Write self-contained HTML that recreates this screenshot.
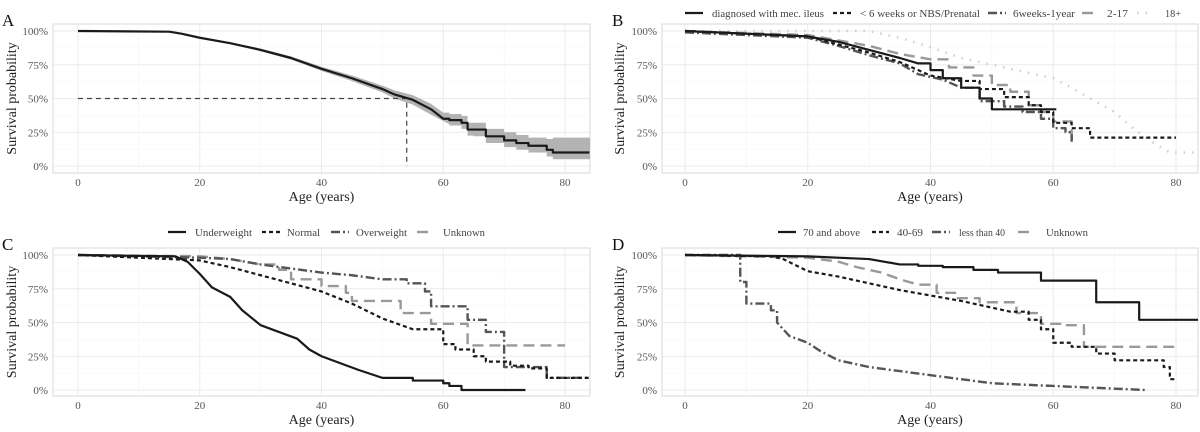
<!DOCTYPE html>
<html><head><meta charset="utf-8"><style>
html,body{margin:0;padding:0;background:#fff}
svg{display:block;font-family:"Liberation Serif",serif}
</style></head><body>
<svg id="fig" width="1200" height="432" viewBox="0 0 1200 432"></svg>
<script>
// ---- Data ----
const ticksX=[0,20,40,60,80];
const ticksY=[0,25,50,75,100];
const tickYLabels=["0%","25%","50%","75%","100%"];
// Panel A
const aAge=[0,15,17,20,25,30,35,40,45,50,52,55,58,60,61,63,64,65,67,70,72,74,77,78,84];
const aSurv=[100,99.5,98,95,91,86,80,72,65,57,53,49,42,35,34,32,27,27,22,19,17,15,12,10,10];
const aLow=[100,99.3,97.6,94.5,90.3,85,78.8,70.5,63,54.5,50,45.5,38,31,30,27.5,22.5,22,17,14,12,10,7,5,5];
const aHigh=[100,99.7,98.4,95.5,91.7,87,81.2,73.5,67,59.5,56,52.5,46,39.5,38.5,37,32,32,27.5,25,23,21,20,21,21];
const aMedian=54;
// Panel B
const bNames=["diagnosed with mec. ileus","< 6 weeks or NBS/Prenatal","6weeks-1year","2-17","18+"];
const b1Age=[0,20,25,30,35,38,40,42,45,48,50,60.5];
const b1Surv=[100,96,92,86,80,76,71,65,58,50,42,42];
const b2Age=[0,20,25,30,35,40,45,48,52,56,58,60,63,66,80];
const b2Surv=[100,96,90,84,77,67,63,57,51,45,40,32,28,21,21];
const b3Age=[0,20,25,30,35,38,42,45,48,52,55,58,60,62,63];
const b3Surv=[99,95,89,82,76,68,64,58,48,44,40,35,28,25,18];
const b4Age=[0,20,25,30,35,40,43,47,50,53,56,58,60,63];
const b4Surv=[100,97,93,89,83,79,73,67,60,55,45,40,33,18];
const b5Age=[0,30,35,40,45,50,55,60,63,66,70,73,76,79,84];
const b5Surv=[100,100,95,88,80,75,70,65,58,50,40,28,18,10,10];
// Panel C
const cNames=["Underweight","Normal","Overweight","Unknown"];
const c1Age=[0,16,18,20,22,25,27,30,33,36,38,40,43,46,50,55,60,61,63,73.5];
const c1Surv=[100,99,95,86,76,69,59,48,43,38,30,25,20,15,9,7,5,3,0,0];
const c2Age=[0,20,25,30,35,40,45,50,55,60,62,65,67,71,74,77,84];
const c2Surv=[100,96,91,85,79,73,64,53,45,34,30,25,21,18,16,9,9];
const c3Age=[0,20,25,30,35,40,45,50,54,57,58,64,67,70,77,84];
const c3Surv=[100,98,97,93,90,87,85,82,79,73,62,52,43,17,9,9];
const c4Age=[0,20,25,30,33,35,40,44,45,53,58,64,80];
const c4Surv=[100,99,97,93,89,82,77,72,66,57,49,33,33];
// Panel D
const dNames=["70 and above","40-69","less than 40","Unknown"];
const d1Age=[0,20,30,35,38,42,47,51,58,67,74,84];
const d1Surv=[100,99,97,93,92,91,89,87,81,65,52,52];
const d2Age=[0,14,16,20,25,30,35,40,45,50,53,56,58,60,63,67,70,76,78,79,80];
const d2Surv=[100,99,97,88,84,79,74,70,66,61,58,52,45,35,32,27,22,22,17,8,8];
const d3Age=[0,8.5,9,10,14,15,17,20,22,25,30,35,40,45,50,60,65,70,75];
const d3Surv=[100,100,80,64,59,50,40,35,29,22,17,14,11,8,5,3,2,1,0];
const d4Age=[0,20,25,28,32,35,38,41,44,48,54,58,62,65,80];
const d4Surv=[100,98,95,91,87,82,78,72,68,65,57,49,48,32,32];

const NS="http://www.w3.org/2000/svg";
const svg=document.getElementById('fig');
function mk(tag,attrs,parent){const e=document.createElementNS(NS,tag);for(const k in attrs)e.setAttribute(k,attrs[k]);(parent||svg).appendChild(e);return e;}

const styles=[
 {stroke:"#1a1a1a",dash:"",w:2.2},
 {stroke:"#1a1a1a",dash:"4,3",w:2.2},
 {stroke:"#555",dash:"9,3,2,3",w:2.4},
 {stroke:"#999",dash:"11,6",w:2.4},
 {stroke:"#cfcfcf",dash:"1.5,7",w:2.6}
];

function panel(cfg){
  const g=mk('g',{});
  
  
  const X=a=>cfg.x0+(cfg.x80-cfg.x0)*a/80;
  const Y=v=>cfg.y0+(cfg.y100-cfg.y0)*v/100;
  for(let i=0;i<ticksX.length;i++){
    const gl=mk('line',{x1:X(ticksX[i]),x2:X(ticksX[i]),y1:cfg.top,y2:cfg.bot,stroke:"#ebebeb","stroke-width":1},g);
    
    if(i<ticksX.length-1){mk('line',{x1:X(ticksX[i]+10),x2:X(ticksX[i]+10),y1:cfg.top,y2:cfg.bot,stroke:"#f5f5f5","stroke-width":0.6},g);}
  }
  for(let i=0;i<ticksY.length;i++){
    const gl=mk('line',{x1:cfg.left,x2:cfg.right,y1:Y(ticksY[i]),y2:Y(ticksY[i]),stroke:"#ebebeb","stroke-width":1},g);
    
    if(i<ticksY.length-1){mk('line',{x1:cfg.left,x2:cfg.right,y1:Y(ticksY[i]+12.5),y2:Y(ticksY[i]+12.5),stroke:"#f5f5f5","stroke-width":0.6},g);}
    const t=mk('text',{x:cfg.left-5,y:Y(ticksY[i])+4,"text-anchor":"end","font-size":11,fill:"#555"},g);
    t.textContent=tickYLabels[i];
    
  }
  for(let i=0;i<ticksX.length;i++){
    const t=mk('text',{x:X(ticksX[i]),y:cfg.bot+13,"text-anchor":"middle","font-size":11,fill:"#555"},g);
    t.textContent=ticksX[i];
    
  }
  const bx=mk('rect',{x:cfg.left,y:cfg.top,width:cfg.right-cfg.left,height:cfg.bot-cfg.top,fill:"none",stroke:"#d9d9d9","stroke-width":1},g);
  
  const xt=mk('text',{x:(cfg.left+cfg.right)/2,y:cfg.bot+28,"text-anchor":"middle","font-size":14,fill:"#222"},g);
  xt.textContent="Age (years)";
  
  const cy=(cfg.top+cfg.bot)/2;
  const yt=mk('text',{x:cfg.ytx,y:cy,"text-anchor":"middle","font-size":14,fill:"#222",transform:`rotate(-90 ${cfg.ytx} ${cy})`},g);
  yt.textContent="Survival probability";
  
  const lb=mk('text',{x:cfg.labX,y:cfg.top+2,"font-size":17,fill:"#111"},g);
  lb.textContent=cfg.label;
  
  const cid='clip'+cfg.label;
  const cp=mk('clipPath',{id:cid},g);mk('rect',{x:cfg.left,y:cfg.top,width:cfg.right-cfg.left,height:cfg.bot-cfg.top},cp);
  const pg=mk('g',{"clip-path":`url(#${cid})`},g);
  function curvePath(ages,vals,linFrom,stepFrom){
    let d="M"+X(ages[0])+","+Y(vals[0]);
    for(let i=1;i<ages.length;i++){
      if(ages[i-1]>=linFrom && ages[i]<=stepFrom) d+=" L"+X(ages[i])+","+Y(vals[i]);
      else d+=" H"+X(ages[i])+" V"+Y(vals[i]);
    }
    return d;
  }
  if(cfg.band){
    const [ag,lo,hi]=cfg.band;
    const sf=cfg.series[0].stepFrom;
    let d="M"+X(ag[0])+","+Y(hi[0]);
    for(let i=1;i<ag.length;i++){ if(ag[i]<=sf) d+=" L"+X(ag[i])+","+Y(hi[i]); else d+=" H"+X(ag[i])+" V"+Y(hi[i]); }
    d+=" H"+X(ag[ag.length-1]+2)+" V"+Y(lo[lo.length-1]);
    for(let i=ag.length-1;i>0;i--){ if(ag[i]<=sf) d+=" L"+X(ag[i-1])+","+Y(lo[i-1]); else d+=" H"+X(ag[i])+" V"+Y(lo[i-1]); }
    d+=" H"+X(ag[0])+"Z";
    const b=mk('path',{d:d,fill:"#b3b3b3",stroke:"none"},pg);
    
  }
  if(cfg.median!==undefined){
    const m=mk('path',{d:`M${X(0)},${Y(50)} H${X(cfg.median)} V${Y(0)}`,fill:"none",stroke:"#444","stroke-width":1.2,"stroke-dasharray":"5,4"},pg);
    
  }
  cfg.series.forEach((s)=>{
    const st=styles[s.style];
    const p=mk('path',{d:curvePath(s.age,s.surv,s.linFrom||0,s.stepFrom),fill:"none",stroke:st.stroke,"stroke-width":st.w,"stroke-dasharray":st.dash,"stroke-linejoin":"round"},pg);
    
    
  });
  if(cfg.legend){
    cfg.legend.forEach((L)=>{
      const st=styles[L.style];
      const k=mk('line',{x1:L.kx,x2:L.kx+(L.kw||18),y1:cfg.legY,y2:cfg.legY,stroke:st.stroke,"stroke-width":st.w,"stroke-dasharray":st.dash},g);
      
      const t=mk('text',{x:L.tx,y:cfg.legY+4,"font-size":11,fill:"#444",textLength:L.tw,lengthAdjust:"spacingAndGlyphs"},g);
      t.textContent=L.text;
      
    });
  }
}
const colL={left:53,right:590,x0:78,x80:565,ytx:16,labX:2};
const colR={left:662,right:1198,x0:685,x80:1176,ytx:624,labX:612};
const rowT={top:24,bot:173,y100:31,y0:166,legY:13};
const rowB={top:248,bot:396,y100:255,y0:390,legY:232};
panel(Object.assign({name:'panel-a',label:'A',band:[aAge,aLow,aHigh],median:aMedian,
  series:[{key:'overall',age:aAge,surv:aSurv,style:0,stepFrom:60}]},colL,rowT));
panel(Object.assign({name:'panel-b',label:'B',
  series:[{key:'18plus',age:b5Age,surv:b5Surv,style:4,stepFrom:100},{key:'2-17',age:b4Age,surv:b4Surv,style:3,stepFrom:40},
    {key:'6weeks-1year',age:b3Age,surv:b3Surv,style:2,stepFrom:45},{key:'lt6weeks',age:b2Age,surv:b2Surv,style:1,stepFrom:45},{key:'mec-ileus',age:b1Age,surv:b1Surv,style:0,stepFrom:38}],
  legend:[{kx:685,tx:712,tw:112,text:bNames[0],style:0},{kx:833,tx:860,tw:120,text:bNames[1],style:1},{kx:988,tx:1013,tw:62,text:bNames[2],style:2},
    {kx:1082,kw:11,tx:1107,tw:21,text:bNames[3],style:3},{kx:1137,kw:15,tx:1165,tw:16,text:bNames[4],style:4}]},colR,rowT));
panel(Object.assign({name:'panel-c',label:'C',
  series:[{key:'unknown',age:c4Age,surv:c4Surv,style:3,stepFrom:30},{key:'overweight',age:c3Age,surv:c3Surv,style:2,stepFrom:50},
    {key:'normal',age:c2Age,surv:c2Surv,style:1,stepFrom:55},{key:'underweight',age:c1Age,surv:c1Surv,style:0,stepFrom:50}],
  legend:[{kx:168,tx:195,tw:57,text:cNames[0],style:0},{kx:262,tx:287,tw:33,text:cNames[1],style:1},{kx:331,tx:356,tw:51,text:cNames[2],style:2},{kx:417,kw:11,tx:443,tw:42,text:cNames[3],style:3}]},colL,rowB));
panel(Object.assign({name:'panel-d',label:'D',
  series:[{key:'unknown',age:d4Age,surv:d4Surv,style:3,stepFrom:40},{key:'less-than-40',age:d3Age,surv:d3Surv,style:2,linFrom:15,stepFrom:100},
    {key:'40-69',age:d2Age,surv:d2Surv,style:1,stepFrom:55},{key:'70-and-above',age:d1Age,surv:d1Surv,style:0,stepFrom:35}],
  legend:[{kx:778,tx:803,tw:57,text:dNames[0],style:0},{kx:872,kw:17,tx:897,tw:26,text:dNames[1],style:1},{kx:932,tx:959,tw:46,text:dNames[2],style:2},{kx:1018,kw:11,tx:1046,tw:42,text:dNames[3],style:3}]},colR,rowB));
</script>
</body></html>
